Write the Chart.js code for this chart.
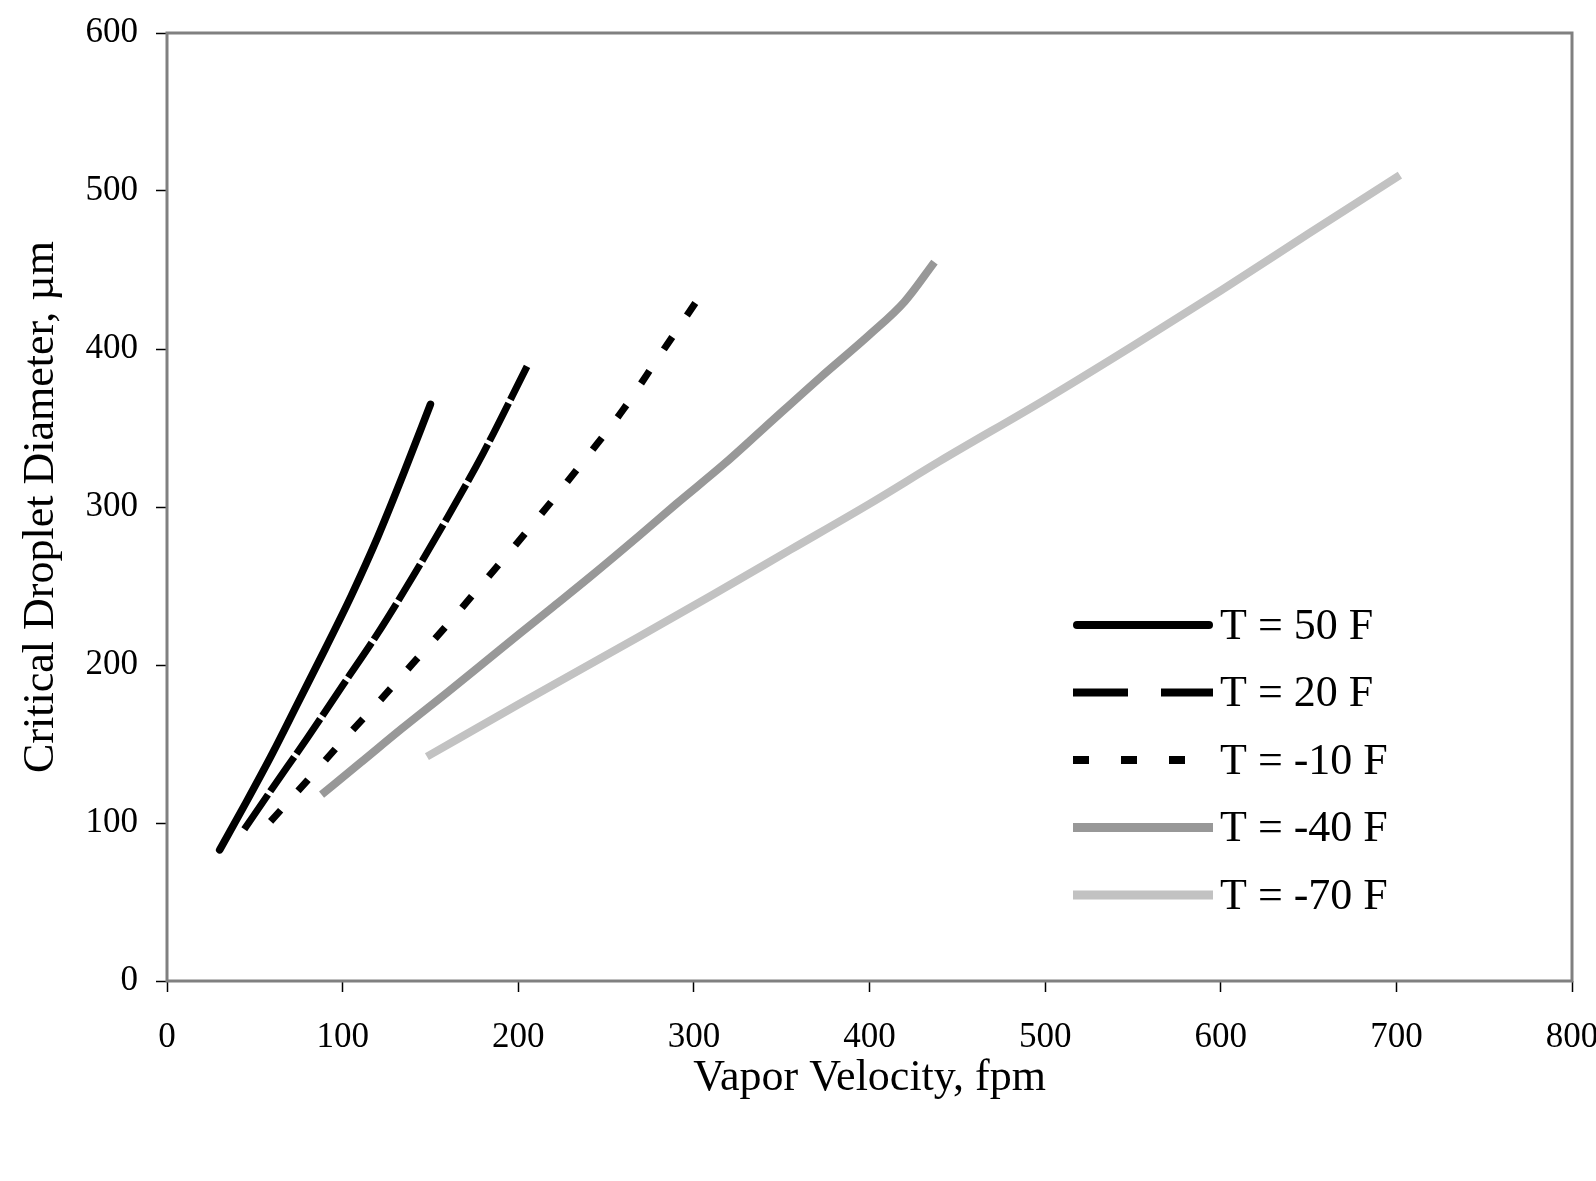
<!DOCTYPE html>
<html>
<head>
<meta charset="utf-8">
<script src="https://cdn.jsdelivr.net/npm/chart.js@4.4.1/dist/chart.umd.min.js"></script>
<style>
  html, body { margin: 0; padding: 0; background: #fff; }
</style>
</head>
<body>
<canvas id="chart" width="1596" height="1181"></canvas>
<script>
// Series names as in the legend
const seriesLabels = ["T = 50 F", "T = 20 F", "T = -10 F", "T = -40 F", "T = -70 F"];

// Vapor velocity (fpm) and critical droplet diameter (um)
const velocity50 = [30, 45, 60, 75, 90, 105, 120, 135, 150];
const diameter50 = [83, 113, 144, 177, 210, 244, 281, 322, 365];

const velocity20 = [44, 60, 80, 100, 120, 140, 160, 180, 205];
const diameter20 = [96, 122, 154, 187, 220, 256, 294, 334, 389];

const velocityM10 = [59, 80, 100, 120, 140, 160, 180, 200, 220, 240, 260, 280, 302];
const diameterM10 = [101, 127, 152, 176, 201, 226, 252, 278, 305, 333, 362, 395, 431];

const velocityM40 = [88, 110, 134, 160, 180, 201, 220, 240, 269, 290, 317, 340, 372, 400, 420, 437];
const diameterM40 = [118, 138, 160, 183, 201, 220, 237, 255, 282, 302, 327, 350, 382, 409, 430, 455];

const velocityM70 = [148, 200, 269, 310, 355, 400, 440, 500, 550, 600, 650, 702];
const diameterM70 = [142, 175, 218, 244, 273, 302, 329, 368, 402, 437, 473, 510];

// Axis ranges
const xTicks = { min: 0, max: 800, step: 100 };
const yTicks = { min: 0, max: 600, step: 100 };

const serif = "'Liberation Serif', 'Times New Roman', serif";

// Pair up x and y arrays for a scatter line
const toPoints = (xs, ys) => xs.map((x, i) => ({ x: x, y: ys[i] }));

// Line look of every series: [color, width, dash in plot, dash in legend]
const lineStyles = [
  ["#000000", 7.5, [], []],
  ["#000000", 7, [42, 4], [55, 33]],
  ["#000000", 7, [15, 26], [16, 32]],
  ["#989898", 8, [], []],
  ["#c2c2c2", 8, [], []],
];

const seriesData = [
  toPoints(velocity50, diameter50),
  toPoints(velocity20, diameter20),
  toPoints(velocityM10, diameterM10),
  toPoints(velocityM40, diameterM40),
  toPoints(velocityM70, diameterM70),
];

const datasets = seriesData.map((pts, i) => ({
  label: seriesLabels[i],
  data: pts,
  borderColor: lineStyles[i][0],
  borderWidth: lineStyles[i][1],
  borderDash: lineStyles[i][2],
  borderCapStyle: i === 0 ? "round" : "butt",
  borderJoinStyle: "round",
  pointRadius: 0,
  fill: false,
  cubicInterpolationMode: "monotone",
  order: i,
}));

// Gray frame around the plot area
const frame = {
  id: "frame",
  beforeDatasetsDraw(chart) {
    const { ctx, chartArea: a } = chart;
    ctx.save();
    ctx.strokeStyle = "#808080";
    ctx.lineWidth = 3;
    ctx.strokeRect(a.left, a.top, a.right - a.left, a.bottom - a.top);
    ctx.restore();
  },
};

// Legend inside the plot, lower right
const innerLegend = {
  id: "innerLegend",
  afterDraw(chart) {
    const ctx = chart.ctx;
    const x0 = 1073, y0 = 625, step = 67.5, len = 140;
    ctx.save();
    chart.data.datasets.forEach((ds, i) => {
      const y = y0 + i * step;
      ctx.beginPath();
      ctx.strokeStyle = lineStyles[i][0];
      ctx.lineWidth = i < 3 ? 8 : 9;
      ctx.lineCap = i === 0 ? "round" : "butt";
      ctx.setLineDash(lineStyles[i][3]);
      ctx.moveTo(x0 + (i === 0 ? 4 : 0), y);
      ctx.lineTo(x0 + len - (i === 0 ? 4 : 0), y);
      ctx.stroke();
      ctx.setLineDash([]);
      ctx.fillStyle = "#000";
      ctx.font = "44px " + serif;
      ctx.textBaseline = "middle";
      ctx.textAlign = "left";
      ctx.fillText(ds.label, x0 + len + 7, y + 2);
    });
    ctx.restore();
  },
};

new Chart(document.getElementById("chart"), {
  type: "line",
  data: { datasets: datasets },
  plugins: [frame, innerLegend],
  options: {
    responsive: false,
    devicePixelRatio: 1,
    animation: false,
    layout: { padding: { top: 33, right: 24, left: 0, bottom: 0 } },
    plugins: {
      legend: { display: false },
      tooltip: { enabled: false },
    },
    scales: {
      x: {
        type: "linear",
        min: xTicks.min,
        max: xTicks.max,
        afterFit(scale) {
          scale.height = 200;
          scale.paddingLeft = 0;
          scale.paddingRight = 0;
        },
        ticks: {
          stepSize: xTicks.step,
          color: "#000",
          padding: 25,
          maxRotation: 0,
          font: { family: serif, size: 35 },
        },
        grid: {
          drawOnChartArea: false,
          drawTicks: true,
          tickLength: 11,
          tickColor: "#000",
          tickWidth: 1.5,
        },
        border: { display: false },
        title: {
          display: true,
          text: "Vapor Velocity, fpm",
          color: "#000",
          font: { family: serif, size: 44 },
          padding: { top: 0, bottom: 76 },
        },
      },
      y: {
        type: "linear",
        min: yTicks.min,
        max: yTicks.max,
        afterFit(scale) {
          scale.width = 167;
          scale.paddingTop = 0;
          scale.paddingBottom = 0;
        },
        ticks: {
          stepSize: yTicks.step,
          color: "#000",
          padding: 18,
          font: { family: serif, size: 35 },
        },
        grid: {
          drawOnChartArea: false,
          drawTicks: true,
          tickLength: 11,
          tickColor: "#000",
          tickWidth: 1.5,
        },
        border: { display: false },
        title: {
          display: true,
          text: "Critical Droplet Diameter, µm",
          color: "#000",
          font: { family: serif, size: 44 },
          padding: { top: 15, bottom: 0 },
        },
      },
    },
  },
});
</script>
</body>
</html>
